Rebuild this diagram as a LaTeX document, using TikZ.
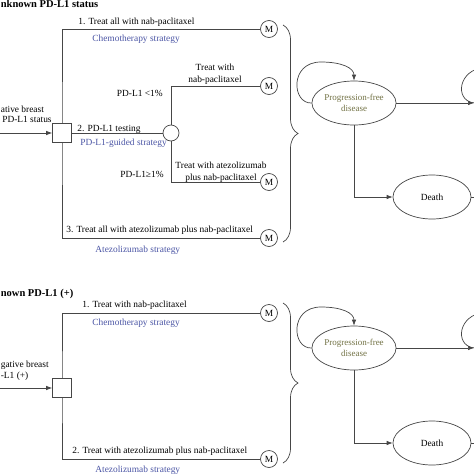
\documentclass[tikz,border=0pt]{standalone}
\usepackage{fontspec}
\setmainfont{Liberation Serif}
\usetikzlibrary{arrows.meta,decorations.pathreplacing,shapes.geometric}
\definecolor{stratblue}{RGB}{75,85,165}
\definecolor{olivetxt}{RGB}{115,115,70}
\definecolor{linegray}{RGB}{70,70,70}
\begin{document}
\begin{tikzpicture}[x=1pt,y=-1pt, line width=0.7pt,
  every node/.style={font=\fontsize{9.4}{11.5}\selectfont},
  conn/.style={draw=linegray},
  arr/.style={draw=linegray,-{Latex[length=6pt,width=4.5pt]}},
  lbl/.style={inner sep=0pt},
  strat/.style={inner sep=0pt,text=stratblue},
  ttl/.style={inner sep=0pt,font=\bfseries\fontsize{10.5}{12}\selectfont},
  decbox/.style={draw=linegray,fill=white,minimum size=19pt,inner sep=0pt},
  chance/.style={draw=linegray,fill=white,circle,minimum size=16pt,inner sep=0pt},
  mnode/.style={draw=linegray,fill=white,circle,minimum size=17pt,inner sep=0pt},
  state/.style={draw=linegray,fill=white,ellipse,minimum width=78pt,minimum height=44pt,inner sep=0pt,align=center},
  brc/.style={draw=linegray,decorate,decoration={brace,amplitude=15pt,aspect=0.5}}
]
\useasboundingbox (0,0) rectangle (474,474);
\fill[white] (0,0) rectangle (474,474);
\begin{scope}
\clip (0,0) rectangle (474,474);

% ---------------- Panel 1 ----------------
\node[ttl,anchor=base west] (t1) at (0.5,7) {nknown PD-L1 status};
\node[lbl,anchor=base west] (in1a) at (0.5,112) {ative breast};
\node[lbl,anchor=base east] (in1b) at (52,122) {PD-L1 status};
\coordinate (s1) at (0,133);
\node[mnode] (m1) at (269,29) {M};
\node[mnode] (m2) at (269,86) {M};
\node[mnode] (m3) at (269,182) {M};
\node[mnode] (m4) at (269,238) {M};
\draw[conn] (m1.west) -| (62,133) |- (m4.west);
\node[decbox] (sq1) at (62,133) {};
\draw[arr] (s1) -- (sq1.west);
\node[chance] (c1) at (171,133) {};
\draw[conn] (sq1.east) -- (c1.west);
\draw[conn] (c1.north) |- (m2.west);
\draw[conn] (c1.south) |- (m3.west);

\node[lbl,anchor=base west] (l11) at (78,24) {1. Treat all with nab-paclitaxel};
\node[strat,anchor=base west] (cs1) at (92,41) {Chemotherapy strategy};
\node[lbl,anchor=base west] (l12) at (77,131) {2. PD-L1 testing};
\node[strat,anchor=base west] (gs1) at (80,145) {PD-L1-guided strategy};
\node[lbl,anchor=base east] (lo1) at (163,96) {PD-L1 <1\%};
\node[lbl,anchor=base east] (hi1) at (164,177) {PD-L1≥1\%};
\node[lbl,align=center,anchor=base] (tn1) at (215,82) {Treat with\\nab-paclitaxel};
\node[lbl,align=center,anchor=base] (ta1) at (221,180) {Treat with atezolizumab\\plus nab-paclitaxel};
\node[lbl,anchor=base west] (l13) at (66,232) {3. Treat all with atezolizumab plus nab-paclitaxel};
\node[strat,anchor=base west] (as1) at (95,252) {Atezolizumab strategy};

\draw[brc] (283,25) -- (283,242);

\node[state,text=olivetxt,font=\fontsize{9}{11}\selectfont] (p1) at (354,103) {Progression-free\\disease};
\node[state] (d1) at (432,197) {Death};
\draw[arr] (p1.west) .. controls (292,104) and (289,62) .. (321,62) .. controls (342,62) and (354,68) .. (p1.north);
\coordinate (n1) at (474,103);
\draw[arr] (p1.east) -- (n1);
\draw[conn] (476,103) .. controls (456,103) and (456,74) .. (480,68);
\draw[arr] (p1.south) |- (d1.west);
\coordinate (dn1) at (476,197);
\draw[conn] (d1.east) -- (dn1);

% ---------------- Panel 2 ----------------
\node[ttl,anchor=base west] (t2) at (0.5,296) {nown PD-L1 (+)};
\node[lbl,anchor=base west] (in2a) at (0.5,367) {gative breast};
\node[lbl,anchor=base west] (in2b) at (0.5,378) {-L1 (+)};
\coordinate (s2) at (0,388);
\node[mnode] (m5) at (269,313) {M};
\node[mnode] (m6) at (269,459) {M};
\draw[conn] (m5.west) -| (62,388) |- (m6.west);
\node[decbox] (sq2) at (62,388) {};
\draw[arr] (s2) -- (sq2.west);

\node[lbl,anchor=base west] (l21) at (82,307) {1. Treat with nab-paclitaxel};
\node[strat,anchor=base west] (cs2) at (92,325) {Chemotherapy strategy};
\node[lbl,anchor=base west] (l22) at (72,453) {2. Treat with atezolizumab plus nab-paclitaxel};
\node[strat,anchor=base west] (as2) at (95,472) {Atezolizumab strategy};

\draw[brc] (283,303) -- (283,463);

\node[state,text=olivetxt,font=\fontsize{9}{11}\selectfont] (p2) at (354,348) {Progression-free\\disease};
\node[state] (d2) at (432,443) {Death};
\draw[arr] (p2.west) .. controls (292,349) and (289,307) .. (321,307) .. controls (342,307) and (354,313) .. (p2.north);
\coordinate (n2) at (474,348);
\draw[arr] (p2.east) -- (n2);
\draw[conn] (476,348) .. controls (456,348) and (456,319) .. (480,313);
\draw[arr] (p2.south) |- (d2.west);
\coordinate (dn2) at (476,443);
\draw[conn] (d2.east) -- (dn2);
\end{scope}
\end{tikzpicture}
\end{document}
